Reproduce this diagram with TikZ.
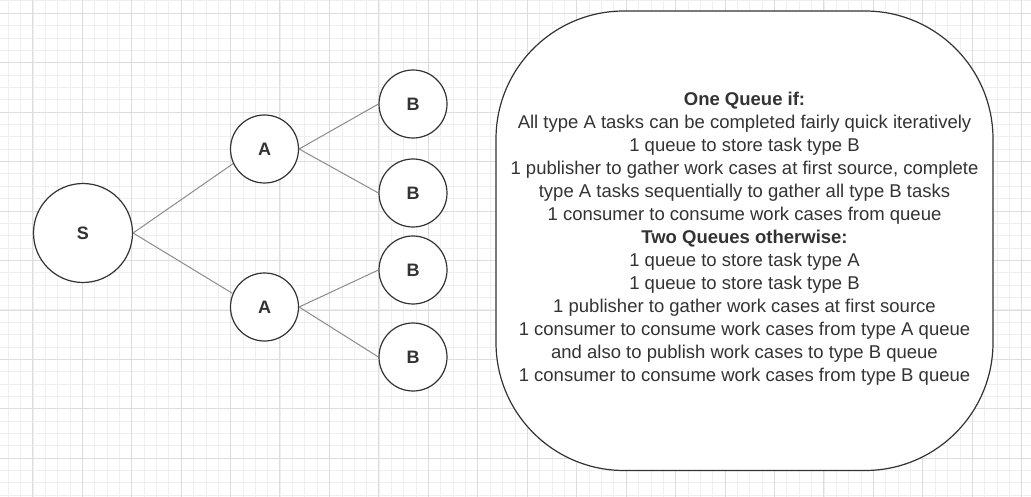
\documentclass[tikz,border=0pt]{standalone}
\usepackage{fontspec}
\setmainfont{Liberation Sans}
\definecolor{ink}{HTML}{333333}
\definecolor{gridminor}{HTML}{EFEFEF}
\definecolor{gridmajor}{HTML}{DDDDDD}
\definecolor{edgecol}{HTML}{8C8C8C}
\begin{document}
\begin{tikzpicture}[x=1pt,y=-1pt,
  minorline/.style={draw=gridminor,line width=1pt},
  majorline/.style={draw=gridmajor,line width=1pt},
  bignode/.style={circle,draw=ink,line width=1.2pt,fill=white,minimum size=99pt,inner sep=0pt,font=\fontsize{18}{20}\selectfont\bfseries,text=ink},
  smallnode/.style={circle,draw=ink,line width=1.2pt,fill=white,minimum size=68pt,inner sep=0pt,font=\fontsize{18}{20}\selectfont\bfseries,text=ink},
  edge/.style={draw=edgecol,line width=1pt},
  panel/.style={draw=ink,line width=1.2pt,fill=white,rounded corners=128pt}]
\useasboundingbox (0,0) rectangle (1031,497);
\fill[white] (0,0) rectangle (1031,497);
\foreach \i in {0,...,83} {\draw[minorline] ({8.3+12.36*\i},0) -- ++(0,497);}
\foreach \i in {0,...,40} {\draw[minorline] (0,{0.94+12.36*\i}) -- ++(1031,0);}
\foreach \i in {0,...,20} {\draw[majorline] ({32.7+49.45*\i},0) -- ++(0,497);}
\foreach \i in {0,...,9} {\draw[majorline] (0,{13.3+49.45*\i}) -- ++(1031,0);}

\node[bignode] (S) at (83,233) {S};
\node[smallnode] (A1) at (264.5,149) {A};
\node[smallnode] (A2) at (264.5,307) {A};
\node[smallnode] (B1) at (413,104) {B};
\node[smallnode] (B2) at (413,193) {B};
\node[smallnode] (B3) at (413,270) {B};
\node[smallnode] (B4) at (413,357) {B};

\draw[edge] (S.east) -- (A1.205);
\draw[edge] (S.east) -- (A2.157);
\draw[edge] (A1.east) -- (B1.west);
\draw[edge] (A1.east) -- (B2.west);
\draw[edge] (A2.east) -- (B3.west);
\draw[edge] (A2.east) -- (B4.west);

\draw[panel] (496,11) rectangle (993,470.5);
\node[align=center,text=ink,font=\fontsize{18.5}{23}\selectfont] (T) at (744.5,238.5) {%
\textbf{One Queue if:}\\
All type A tasks can be completed fairly quick iteratively\\
1 queue to store task type B\\
1 publisher to gather work cases at first source, complete\\
type A tasks sequentially to gather all type B tasks\\
1 consumer to consume work cases from queue\\
\textbf{Two Queues otherwise:}\\
1 queue to store task type A\\
1 queue to store task type B\\
1 publisher to gather work cases at first source\\
1 consumer to consume work cases from type A queue\\
and also to publish work cases to type B queue\\
1 consumer to consume work cases from type B queue};
\end{tikzpicture}
\end{document}
